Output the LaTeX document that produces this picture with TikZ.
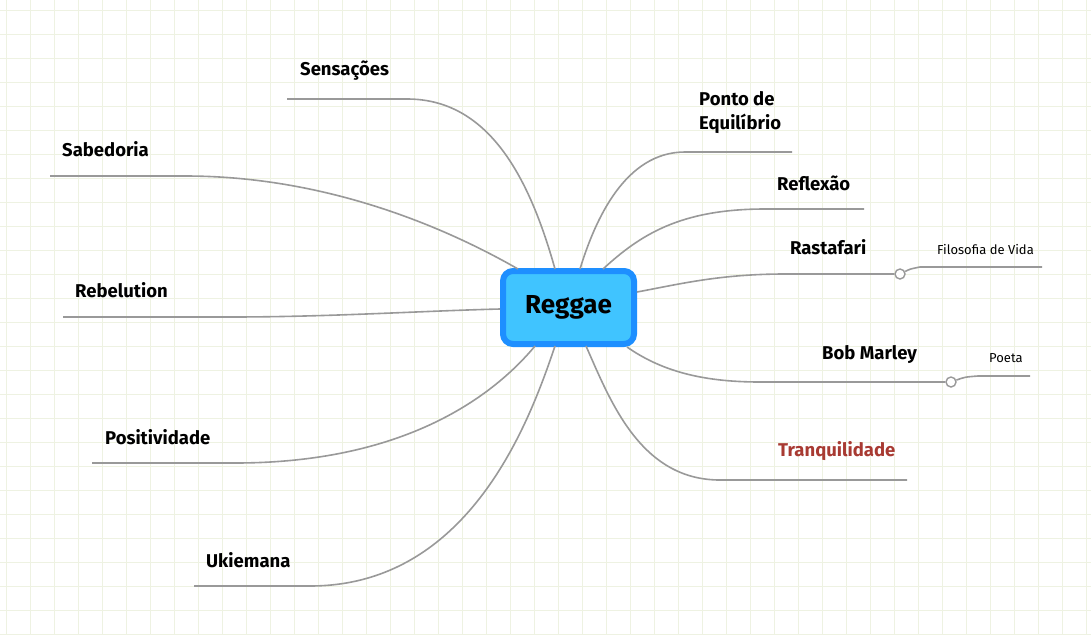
\documentclass[tikz,border=0pt]{standalone}
\usepackage{fontspec}
\setmainfont{Fira Sans}
\definecolor{gridc}{HTML}{EEF2E2}
\definecolor{linec}{HTML}{999999}
\definecolor{outerb}{HTML}{1E8FFF}
\definecolor{innerb}{HTML}{40C4FF}
\definecolor{redt}{HTML}{A83A32}
\begin{document}
\begin{tikzpicture}[x=1pt,y=-1pt,
  br/.style={draw=linec,line width=1.6pt},
  lab/.style={anchor=south west,inner sep=0pt,font=\bfseries\fontsize{18.5}{24}\selectfont},
  sub/.style={anchor=south west,inner sep=0pt,font=\fontsize{13}{15}\selectfont},
  knob/.style={circle,draw=linec,fill=white,line width=1.4pt,minimum size=10pt,inner sep=0pt}]
\useasboundingbox (0,0) rectangle (1091,635);
\fill[white] (0,0) rectangle (1091,635);
\foreach \x in {0,24,...,1091} \draw[gridc,line width=0.8pt] (\x+6,0) -- (\x+6,635);
\foreach \y in {0,24,...,635} \draw[gridc,line width=0.8pt] (0,\y+10) -- (1091,\y+10);
% center
\node[draw=outerb,fill=innerb,line width=6pt,rounded corners=10pt,minimum width=131pt,minimum height=73pt,
  font=\bfseries\fontsize{26}{30}\selectfont] (c) at (568.5,307.5) {Reggae};
% left
\coordinate (sE) at (407,99); \coordinate (sW) at (287,99);
\draw[br] (sW) -- (sE) .. controls (490,99) and (530,180) .. (555,269);
\node[lab] (s) at (300,81) {Sensações};
\coordinate (abE) at (185,176); \coordinate (abW) at (50,176);
\draw[br] (abW) -- (abE) .. controls (330,176) and (450,230) .. (518,269);
\node[lab] (ab) at (62,157) {Sabedoria};
\coordinate (rbE) at (230,317); \coordinate (rbW) at (63,317);
\draw[br] (rbW) -- (rbE) .. controls (330,317) and (420,311) .. (500,309);
\node[lab] (rb) at (75,298) {Rebelution};
\coordinate (pE) at (235,463); \coordinate (pW) at (92,463);
\draw[br] (pW) -- (pE) .. controls (400,463) and (490,400) .. (535,346);
\node[lab] (p) at (105,445) {Positividade};
\coordinate (uE) at (310,586); \coordinate (uW) at (194,586);
\draw[br] (uW) -- (uE) .. controls (470,586) and (530,420) .. (555,346);
\node[lab] (u) at (206,568) {Ukiemana};
% right
\coordinate (peE) at (792,152); \coordinate (peW) at (685,152);
\draw[br] (peE) -- (peW) .. controls (625,152) and (595,220) .. (580,269);
\node[lab,align=left] (pe) at (699,134) {Ponto de\\Equilíbrio};
\coordinate (rfE) at (864,209); \coordinate (rfW) at (765,209);
\draw[br] (rfE) -- (rfW) .. controls (680,209) and (640,235) .. (603,269);
\node[lab] (rf) at (777,191) {Reflexão};
\node[knob] (k1) at (900,274) {};
\draw[br] (k1) -- (785,274) .. controls (720,274) and (680,284) .. (637,292);
\coordinate (f1) at (920,267); \coordinate (f2) at (1042,267);
\draw[br] (k1) .. controls (910,269) .. (f1) -- (f2);
\node[lab] (ra) at (790,255) {Rastafari};
\node[sub] (fv) at (937,255) {Filosofia de Vida};
\node[knob] (k2) at (951,382) {};
\draw[br] (k2) -- (760,382) .. controls (700,382) and (660,370) .. (627,347);
\coordinate (g1) at (978,376); \coordinate (g2) at (1030,376);
\draw[br] (k2) .. controls (965,377) .. (g1) -- (g2);
\node[lab] (bm) at (822,364) {Bob Marley};
\node[sub] (po) at (989,363) {Poeta};
\coordinate (tE) at (907,480); \coordinate (tW) at (720,480);
\draw[br] (tE) -- (tW) .. controls (640,480) and (610,400) .. (586,346);
\node[lab,text=redt] (tq) at (778,461) {Tranquilidade};
\end{tikzpicture}
\end{document}
